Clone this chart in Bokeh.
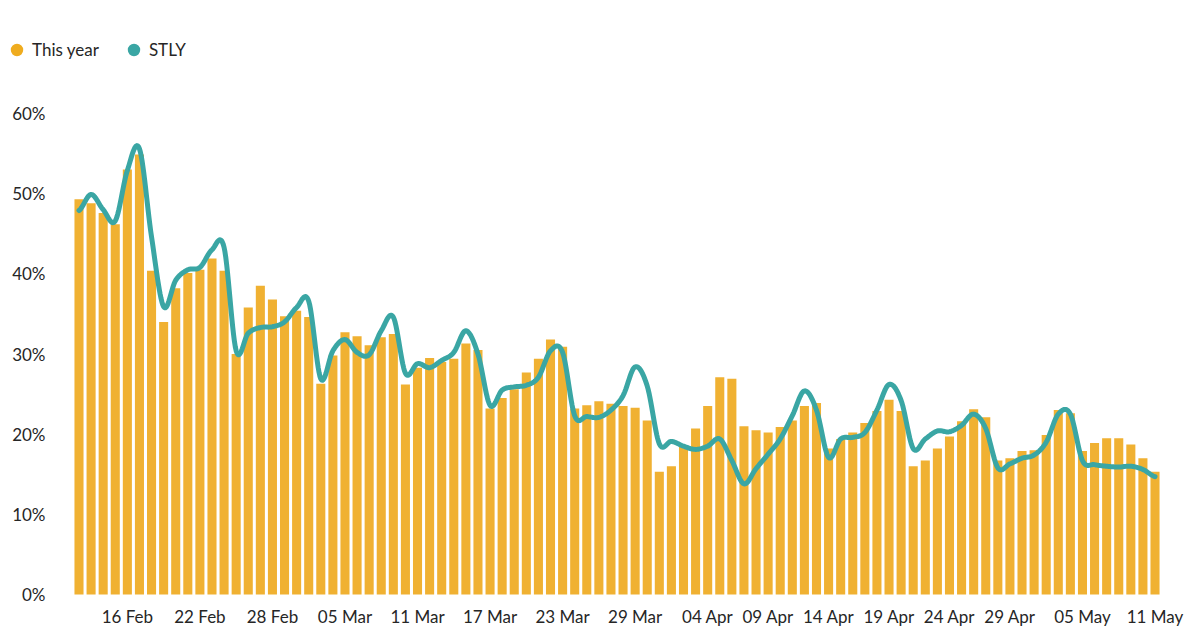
import datetime as dt
import numpy as np
from bokeh.plotting import figure
from bokeh.models import Range1d, Legend, LegendItem
from bokeh.core.properties import value
from bokeh.embed import file_html
from bokeh.resources import INLINE

# ---------------- data ----------------
start_date = dt.date(2024, 2, 12)

this_year = [49.3, 48.8, 47.6, 46.2, 53.0, 54.9, 40.4, 34.0, 38.2, 40.1,
             40.5, 41.9, 40.4, 30.0, 35.8, 38.5, 36.8, 34.7, 35.4, 34.6,
             26.3, 29.8, 32.7, 32.2, 31.1, 32.1, 32.5, 26.2, 28.3, 29.5,
             29.0, 29.4, 31.3, 30.5, 23.2, 24.5, 25.6, 27.7, 29.4, 31.8,
             30.9, 23.2, 23.6, 24.1, 23.8, 23.5, 23.3, 21.7, 15.3, 16.0,
             18.4, 20.7, 23.5, 27.1, 26.9, 21.0, 20.5, 20.2, 20.9, 21.7,
             23.5, 23.9, 18.2, 19.4, 20.2, 21.4, 22.9, 24.3, 22.9, 16.0,
             16.7, 18.2, 19.7, 21.6, 23.1, 22.1, 16.7, 17.0, 17.9, 18.0,
             19.9, 23.0, 22.6, 17.9, 18.9, 19.5, 19.5, 18.7, 17.0, 15.3]

stly = [47.9, 49.9, 48.0, 46.6, 52.9, 55.6, 44.6, 35.9, 39.2, 40.5,
        40.8, 43.0, 43.3, 30.4, 32.6, 33.3, 33.4, 34.0, 35.8, 36.6,
        26.9, 30.4, 31.8, 30.2, 29.9, 32.9, 34.6, 27.6, 28.8, 28.3,
        29.2, 30.2, 32.9, 30.0, 23.6, 25.5, 25.9, 26.1, 27.1, 30.4,
        30.2, 22.3, 22.2, 22.1, 23.0, 24.8, 28.4, 26.0, 18.8, 19.1,
        18.5, 18.1, 18.5, 19.4, 16.7, 13.8, 15.7, 17.5, 19.4, 22.3,
        25.4, 23.0, 17.1, 19.4, 19.6, 20.2, 23.0, 26.2, 24.2, 18.2,
        19.4, 20.4, 20.3, 21.1, 22.5, 20.7, 15.8, 16.3, 17.0, 17.4,
        19.0, 22.5, 22.5, 16.7, 16.2, 16.0, 15.9, 16.0, 15.6, 14.7]

tick_labels = ["16 Feb", "22 Feb", "28 Feb", "05 Mar", "11 Mar", "17 Mar",
               "23 Mar", "29 Mar", "04 Apr", "09 Apr", "14 Apr", "19 Apr",
               "24 Apr", "29 Apr", "05 May", "11 May"]
y_ticks = [0, 10, 20, 30, 40, 50, 60]
y_tick_labels = ["0%", "10%", "20%", "30%", "40%", "50%", "60%"]
series_names = ["This year", "STLY"]

# ---------------- styling / layout ----------------
BAR = "#F0B132"
BAR_LEG = "#EFAC1F"
TEAL = "#3AA6A4"
TXT = "#262626"
FONT = "Lato"
FS = "17px"

W, H = 1200, 630
first_center = 78.5     # px of first bar centre
pitch = 12.09           # px per day
zero_px = 594.0         # px of 0 %
top60_px = 113.0        # px of 60 %
ylab_right = 45.0       # px of right edge of the y labels
xlab_top = 605.0        # px of top of the x labels

n = len(this_year)
dates = [start_date + dt.timedelta(days=i) for i in range(n)]
idx = list(range(n))
tick_idx = [dates.index(dt.datetime.strptime(l + " 2024", "%d %b %Y").date())
            for l in tick_labels]

x_start = -first_center / pitch
x_end = x_start + W / pitch
ppu = (zero_px - top60_px) / 60.0
y_start = -(H - zero_px) / ppu
y_end = zero_px / ppu

p = figure(width=W, height=H, output_backend="svg", toolbar_location=None,
           x_range=Range1d(x_start, x_end), y_range=Range1d(y_start, y_end),
           x_axis_location=None, y_axis_location=None,
           min_border_left=0, min_border_right=0,
           min_border_top=0, min_border_bottom=0,
           outline_line_color=None, background_fill_color="white",
           border_fill_color="white")
p.grid.visible = False

# bars
p.vbar(x=idx, top=this_year, bottom=0, width=0.75, fill_color=BAR,
       line_color=None)

# smooth (Catmull-Rom) path through the STLY points
xs_s, ys_s = [], []
ya = np.array(stly, dtype=float)
for i in range(n - 1):
    p0 = ya[i - 1] if i > 0 else ya[i]
    p1 = ya[i]
    p2 = ya[i + 1]
    p3 = ya[i + 2] if i + 2 < n else ya[i + 1]
    m1 = (p2 - p0) / 2.0
    m2 = (p3 - p1) / 2.0
    for t in np.linspace(0, 1, 14, endpoint=(i == n - 2)):
        h00 = 2 * t**3 - 3 * t**2 + 1
        h10 = t**3 - 2 * t**2 + t
        h01 = -2 * t**3 + 3 * t**2
        h11 = t**3 - t**2
        xs_s.append(i + t)
        ys_s.append(h00 * p1 + h10 * m1 + h01 * p2 + h11 * m2)

p.line(xs_s, ys_s, line_color=TEAL, line_width=5, line_cap="round",
       line_join="round")

# y tick labels
ylab_x = x_start + ylab_right / pitch
p.text(x=[ylab_x] * len(y_ticks), y=y_ticks, text=y_tick_labels,
       text_align="right", text_baseline="middle", text_font=value(FONT),
       text_font_size=FS, text_color=TXT)

# x tick labels
label_y = -(xlab_top - zero_px) / ppu
p.text(x=tick_idx, y=[label_y] * len(tick_idx), text=tick_labels,
       text_align="center", text_baseline="top", text_font=value(FONT),
       text_font_size=FS, text_color=TXT)

# legend (zero-size markers: only their legend swatches are seen)
r1 = p.scatter(x=idx, y=this_year, marker="circle", size=0,
               fill_color=BAR_LEG, line_color=None)
r2 = p.scatter(x=idx, y=stly, marker="circle", size=0,
               fill_color=TEAL, line_color=None)
legend = Legend(items=[LegendItem(label=series_names[0], renderers=[r1]),
                       LegendItem(label=series_names[1], renderers=[r2])],
                orientation="horizontal", location=(1, H - 32.5 - 33),
                glyph_width=31, glyph_height=33, label_standoff=0,
                spacing=19, padding=0, margin=0, border_line_color=None,
                background_fill_alpha=0, label_text_font=FONT,
                label_text_font_size=FS, label_text_color=TXT)
p.add_layout(legend, "center")

open("out.html", "w").write(file_html(p, INLINE))
